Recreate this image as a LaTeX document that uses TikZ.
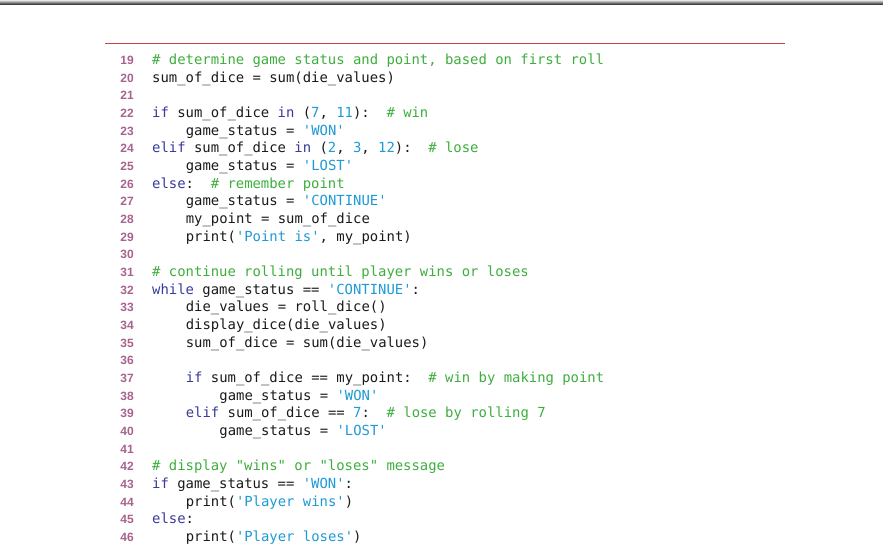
\documentclass[tikz,border=0pt]{standalone}
\usepackage{fontspec}
\newfontfamily\codefont{DejaVu Sans Mono}
\newfontfamily\numfont{Liberation Sans}
\definecolor{kwc}{HTML}{3A3A9A}
\definecolor{stc}{HTML}{1E9AD6}
\definecolor{cmc}{HTML}{3DAE3D}
\definecolor{lnc}{HTML}{A8628C}
\definecolor{txc}{HTML}{1A1A1A}
\definecolor{rulec}{HTML}{C8404A}
\newcommand\kw[1]{\textcolor{kwc}{#1}}
\newcommand\st[1]{\textcolor{stc}{#1}}
\newcommand\cm[1]{\textcolor{cmc}{#1}}
\newcommand\q{\char39}
\begin{document}
\begin{tikzpicture}[x=1pt,y=-1pt,
  codeline/.style={anchor=base west,inner sep=0pt,font=\codefont\fontsize{13.9}{14}\selectfont,text=txc},
  lineno/.style={anchor=base east,inner sep=0pt,font=\numfont\bfseries\fontsize{12}{12}\selectfont,text=lnc}]
\useasboundingbox (0,0) rectangle (883,557);
\fill[top color=gray!20,bottom color=black!75] (0,0) rectangle (883,4);
\draw[rulec,line width=0.8pt] (105,43.5) -- (785,43.5);
\foreach \n in {19,...,46}{
  \node[lineno] (ln\n) at (134,{64.5+(\n-19)*17.67}) {\n};
}
\newcommand\cl[3]{\node[codeline] (c#1) at ({152+#2*8.4},{64.5+(#1-19)*17.67}) {#3};}
\cl{19}{0}{\cm{\# determine game status and point, based on first roll}}
\cl{20}{0}{sum\_of\_dice = sum(die\_values)}
\cl{22}{0}{\kw{if} sum\_of\_dice \kw{in} (\st{7}, \st{11}):\ \ \cm{\# win}}
\cl{23}{4}{game\_status = \st{\q WON\q}}
\cl{24}{0}{\kw{elif} sum\_of\_dice \kw{in} (\st{2}, \st{3}, \st{12}):\ \ \cm{\# lose}}
\cl{25}{4}{game\_status = \st{\q LOST\q}}
\cl{26}{0}{\kw{else}:\ \ \cm{\# remember point}}
\cl{27}{4}{game\_status = \st{\q CONTINUE\q}}
\cl{28}{4}{my\_point = sum\_of\_dice}
\cl{29}{4}{print(\st{\q Point is\q}, my\_point)}
\cl{31}{0}{\cm{\# continue rolling until player wins or loses}}
\cl{32}{0}{\kw{while} game\_status == \st{\q CONTINUE\q}:}
\cl{33}{4}{die\_values = roll\_dice()}
\cl{34}{4}{display\_dice(die\_values)}
\cl{35}{4}{sum\_of\_dice = sum(die\_values)}
\cl{37}{4}{\kw{if} sum\_of\_dice == my\_point:\ \ \cm{\# win by making point}}
\cl{38}{8}{game\_status = \st{\q WON\q}}
\cl{39}{4}{\kw{elif} sum\_of\_dice == \st{7}:\ \ \cm{\# lose by rolling 7}}
\cl{40}{8}{game\_status = \st{\q LOST\q}}
\cl{42}{0}{\cm{\# display \char34 wins\char34{} or \char34 loses\char34{} message}}
\cl{43}{0}{\kw{if} game\_status == \st{\q WON\q}:}
\cl{44}{4}{print(\st{\q Player wins\q})}
\cl{45}{0}{\kw{else}:}
\cl{46}{4}{print(\st{\q Player loses\q})}
\end{tikzpicture}
\end{document}
